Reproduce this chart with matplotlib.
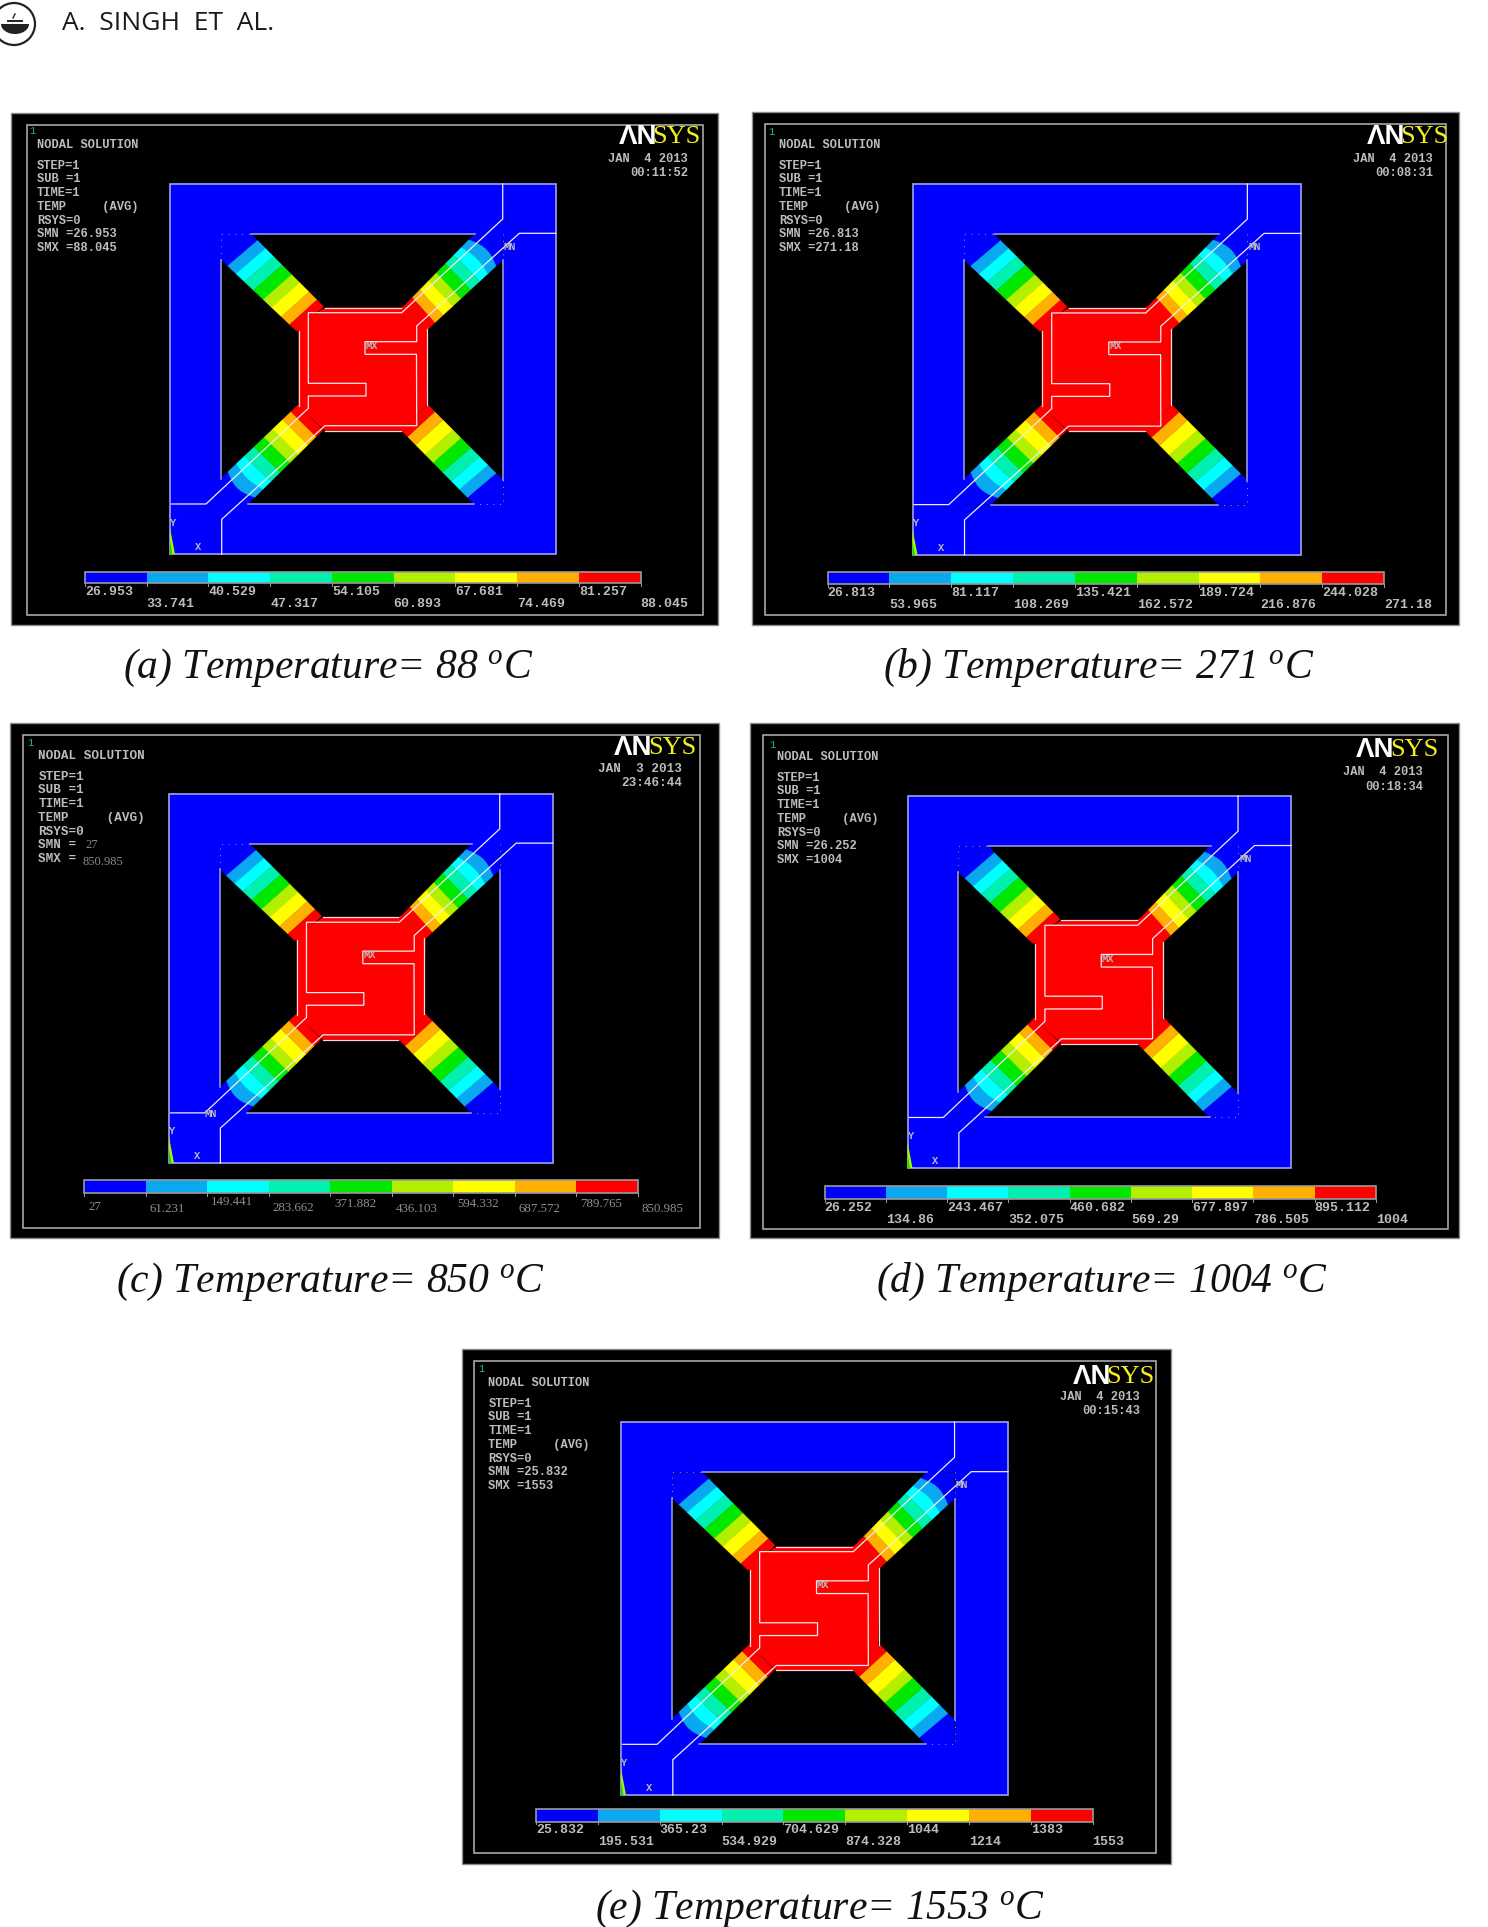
import numpy as np
import matplotlib
matplotlib.use("Agg")
import matplotlib.pyplot as plt
from matplotlib.patches import Circle, Polygon, Rectangle

plt.rcParams["mathtext.fontset"] = "custom"
plt.rcParams["mathtext.it"] = "Liberation Serif:italic"
plt.rcParams["mathtext.rm"] = "Liberation Serif:italic"

# values shown in each of the five panels
panel_names = ["a", "b", "c", "d", "e"]
temperatures = ["88", "271", "850", "1004", "1553"]
smn_text = ["26.953", "26.813", "27", "26.252", "25.832"]
smx_text = ["88.045", "271.18", "850.985", "1004", "1553"]
dates = ["JAN  4 2013", "JAN  4 2013", "JAN  3 2013", "JAN  4 2013", "JAN  4 2013"]
times = ["00:11:52", "00:08:31", "23:46:44", "00:18:34", "00:15:43"]
levels_a = ["26.953", "33.741", "40.529", "47.317", "54.105", "60.893", "67.681", "74.469", "81.257", "88.045"]
levels_b = ["26.813", "53.965", "81.117", "108.269", "135.421", "162.572", "189.724", "216.876", "244.028", "271.18"]
levels_c = ["27", "61.231", "149.441", "283.662", "371.882", "436.103", "594.332", "687.572", "789.765", "850.985"]
levels_d = ["26.252", "134.86", "243.467", "352.075", "460.682", "569.29", "677.897", "786.505", "895.112", "1004"]
levels_e = ["25.832", "195.531", "365.23", "534.929", "704.629", "874.328", "1044", "1214", "1383", "1553"]
levels = [levels_a, levels_b, levels_c, levels_d, levels_e]
band_colors = ["#0000ff", "#0aa8f0", "#00ffff", "#00f0b0", "#00e800", "#b2f000", "#ffff00", "#ffb000", "#ff0000"]

# layout in pixels: left, top, right, bottom
panel_boxes = [(11, 113, 718, 625), (752, 112, 1459, 625), (10, 723, 719, 1238), (750, 723, 1459, 1238), (462, 1349, 1171, 1864)]
frame_boxes = [(27, 125, 703, 615), (765, 124, 1446, 615), (23, 735, 700, 1228), (763, 735, 1448, 1229), (474, 1361, 1156, 1853)]
model_boxes = [(170, 184, 556, 554.3), (912.5, 184, 1301, 555), (169, 794, 552.7, 1163), (907.5, 796, 1291, 1168), (621, 1422, 1008, 1795)]
bar_boxes = [(85, 571.7, 640.5, 583.3), (827.5, 572, 1384, 584), (84, 1180, 638, 1193), (824.5, 1186, 1376, 1199), (536, 1809, 1092.5, 1821.5)]
text_starts = [(37, 145), (779, 145), (38.3, 756), (777, 757), (488.3, 1383)]
one_marks = [(32, 131), (771.7, 131.7), (30.7, 742.7), (772, 745), (481.7, 1369)]
date_marks = [(688, 159), (1433, 159), (682, 769), (1423, 772), (1140, 1397)]
logo_marks = [(701, 137), (1449, 137), (696, 748), (1438, 750), (1155, 1377)]
caption_marks = [(328, 668), (1099, 668), (330, 1282), (1102.5, 1282), (820, 1909)]
mn_marks = [(510, 246.7), (510, 246.7), (212, 505), (510, 246.7), (510, 246.7)]
mono_sizes = [8.7, 8.7, 9.1, 8.7, 8.7]

# blueprint of the model, in pixels of panel (a)
blue_l, blue_t, blue_r, blue_b = model_boxes[0]
hole = (221, 234, 502.7, 504)
# each arm: two points on the frame side, two on the square side, bulge of the frame end
arms = [
    ((251, 234), (221, 259.5), (323.5, 306.5), (296.5, 331), 0),
    ((475, 233.5), (502.7, 260), (406, 304), (428, 329), 7),
    ((248, 504), (221, 478.5), (323, 430), (298, 405), 7),
    ((474, 504), (502.7, 480), (401, 430), (428, 405), 0),
]
corners = [
    [(221, 234), (251, 234), (221, 259.5)],
    [(502.7, 234), (475, 233.5), (502.7, 260)],
    [(221, 504), (248, 504), (221, 478.5)],
    [(502.7, 504), (474, 504), (502.7, 480)],
]
hole_edges = [
    [(251, 234), (475, 234)],
    [(502.7, 260), (502.7, 480)],
    [(474, 504), (248, 504)],
    [(221, 478.5), (221, 259.5)],
]
# faint dotted traces left in the blue corners
dotted_edges = [
    [(221, 259.5), (221, 234), (251, 234)],
    [(502.7, 234), (502.7, 260)],
    [(502.7, 480), (502.7, 504), (474, 504)],
]
band_steps = [0.0, 0.09, 0.2, 0.31, 0.43, 0.56, 0.67, 0.8, 0.91, 1.0]
square = [(325, 307.7), (400.7, 307.7), (408, 303), (428, 328), (426.7, 405), (426.7, 406),
          (400.7, 430.7), (325, 430.7), (298.5, 406), (298.5, 331), (295, 328)]
square_edges = [
    [(325, 307.7), (400.7, 307.7)],
    [(427, 329), (427, 405)],
    [(400.7, 430.7), (325, 430.7)],
    [(298.5, 406), (298.5, 331)],
]
path_upper = [(502.7, 184), (502.7, 219), (401.7, 312.7), (308.3, 312.7), (308.3, 383.3), (366, 383.3),
              (366, 396), (308.3, 396), (308.3, 408.3), (206, 504), (171.7, 504)]
path_lower = [(556, 233.3), (519.3, 233.3), (416.7, 326), (416.7, 341.7), (365, 341.7), (365, 354.3),
              (416.5, 354.3), (416.7, 425.7), (325, 425.7), (221.7, 519.3), (221.7, 554.3)]


def band_polygon(arm, t0, t1, bulge):
    """One coloured band across an arm, with curved edges near the frame end."""
    a0, b0, a1, b1 = [np.array(p, dtype=float) for p in arm[:4]]
    s = np.linspace(0, 1, 9)
    points = []
    for t, direction in ((t0, 1), (t1, -1)):
        a = a0 + (a1 - a0) * t
        b = b0 + (b1 - b0) * t
        axis = (a1 - a0) / np.linalg.norm(a1 - a0)
        size = bulge * max(0.0, 1 - t / 0.35)
        line = [a + (b - a) * v - axis * size * np.sin(np.pi * v) for v in s]
        points += line[::direction]
    return points


def draw_panel(ax, i):
    left, top, right, bottom = panel_boxes[i]
    ax.add_patch(Rectangle((left, top), right - left, bottom - top, fc="black", ec="#8c8c8c", lw=1.0))
    fl, ft, fr, fb = frame_boxes[i]
    ax.add_patch(Rectangle((fl, ft), fr - fl, fb - ft, fc="none", ec="#a8a8a8", lw=1.2))

    ml, mt, mr, mb = model_boxes[i]
    sx = (mr - ml) / (blue_r - blue_l)
    sy = (mb - mt) / (blue_b - blue_t)

    def place(points):
        return [(ml + (x - blue_l) * sx, mt + (y - blue_t) * sy) for x, y in points]

    outline = "#a0a0f0"
    ax.add_patch(Rectangle((ml, mt), mr - ml, mb - mt, fc=band_colors[0], ec=outline, lw=1.2))
    hl, ht, hr, hb = hole
    hole_points = place([(hl, ht), (hr, ht), (hr, hb), (hl, hb)])
    ax.add_patch(Polygon(hole_points, fc="black", ec="none"))
    for corner in corners:
        ax.add_patch(Polygon(place(corner), fc=band_colors[0], ec="none"))
    for edge in hole_edges:
        xs, ys = zip(*place(edge))
        ax.plot(xs, ys, color=outline, lw=1.1)
    for edge in dotted_edges:
        xs, ys = zip(*place(edge))
        ax.plot(xs, ys, color="#c8c8ff", lw=0.6, ls=(0, (1, 7)))

    for arm in arms:
        for k, color in enumerate(band_colors):
            points = band_polygon(arm, band_steps[k], band_steps[k + 1], arm[4])
            ax.add_patch(Polygon(place(points), fc=color, ec=color, lw=0.3))
    ax.add_patch(Polygon(place(square), fc=band_colors[-1], ec="none"))
    for edge in square_edges:
        xs, ys = zip(*place(edge))
        ax.plot(xs, ys, color="#ffd8d8", lw=0.9)

    for path in (path_upper, path_lower):
        xs, ys = zip(*place(path))
        ax.plot(xs, ys, color="#f0ecf4", lw=0.9, solid_joinstyle="miter")

    # coordinate triad in the lower left corner
    ax.add_patch(Polygon(place([(blue_l, 554.3), (blue_l + 5, 554.3), (blue_l, 528)]), fc="#b2f000", ec="none"))
    ax.add_patch(Polygon(place([(blue_l, 554.3), (blue_l + 2.5, 554.3), (blue_l, 540)]), fc="#00e800", ec="none"))

    mono = dict(family="Liberation Mono", color="#bcbcbc", va="center", fontweight="bold")
    size = mono_sizes[i]
    small = dict(mono, fontsize=7.5, ha="center")
    ax.text(*place([(173.5, 522.5)])[0], "Y", **small)
    ax.text(*place([(198, 547)])[0], "X", **small)
    ax.text(*place([(371.7, 346)])[0], "MX", **small)
    ax.text(*place([mn_marks[i]])[0], "MN", **small)

    x0, y0 = text_starts[i]
    ax.text(one_marks[i][0], one_marks[i][1], "1", family="Liberation Mono", color="#20b0a0", fontsize=7.5, ha="center", va="center")
    ax.text(x0, y0, "NODAL SOLUTION", fontsize=size, **mono)
    rows = ["STEP=1", "SUB =1", "TIME=1", "TEMP     (AVG)", "RSYS=0"]
    if i == 2:
        rows += ["SMN =", "SMX ="]
    else:
        rows += ["SMN =" + smn_text[i], "SMX =" + smx_text[i]]
    for k, row in enumerate(rows):
        ax.text(x0, y0 + 20.7 + 13.75 * k, row, fontsize=size, **mono)
    if i == 2:
        # this panel had its extreme values retyped in a serif face
        serif = dict(family="Liberation Serif", color="#8a8a8a", fontsize=9, va="center")
        ax.text(x0 + 47, y0 + 89, smn_text[i], **serif)
        ax.text(x0 + 44, y0 + 106, smx_text[i], **serif)

    dx, dy = date_marks[i]
    ax.text(dx, dy, dates[i], fontsize=size, ha="right", **mono)
    ax.text(dx, dy + 14.5, times[i], fontsize=size, ha="right", **mono)

    lx, ly = logo_marks[i]
    ax.text(lx, ly, "SYS", family="Liberation Serif", color="#f2ee20", fontsize=19, ha="right", va="center")
    ax.text(lx - 44, ly, "ΛN", family="Liberation Sans", fontweight="bold", color="white", fontsize=20, ha="right", va="center")

    bl, bt, br, bb = bar_boxes[i]
    step = (br - bl) / len(band_colors)
    ax.bar([bl + step * k for k in range(len(band_colors))], bb - bt, width=step, bottom=bt,
           align="edge", color=band_colors, edgecolor="none")
    ax.add_patch(Rectangle((bl, bt), br - bl, bb - bt, fc="none", ec="#9a9a9a", lw=1.2))
    for k, label in enumerate(levels[i]):
        x = bl + step * k
        ax.plot([x, x], [bb, bb + 2.5], color="#a0a0a0", lw=0.7)
        if i == 2:
            offsets = [14, 16, 9, 15, 11, 16, 11, 16, 11, 16]
            ax.text(x + 4, bb + offsets[k], label, family="Liberation Serif", color="#8f8f8f", fontsize=9.3, va="center")
        else:
            ax.text(x, bb + (8.7 if k % 2 == 0 else 20.7), label, fontsize=9.5, **mono)

    cx, cy = caption_marks[i]
    ax.text(cx, cy, f"({panel_names[i]}) Temperature= {temperatures[i]} " + r"$^{o}$C",
            family="Liberation Serif", style="italic", color="#111111", fontsize=30, ha="center", va="center")


fig = plt.figure(figsize=(14.88, 19.27), dpi=100)
ax = fig.add_axes([0, 0, 1, 1])
ax.set_xlim(0, 1488)
ax.set_ylim(1927, 0)
ax.axis("off")

# running head with the publisher's lamp mark
ax.add_patch(Circle((14, 24), 21, fc="white", ec="#222222", lw=1.6))
bowl = np.linspace(0, np.pi, 25)
ax.add_patch(Polygon(np.column_stack([15 + 14 * np.cos(bowl), 24 + 10 * np.sin(bowl)]), fc="#222222", ec="none"))
ax.plot([8, 22], [21, 21], color="#222222", lw=1.4)
ax.plot([13, 15], [18, 14], color="#222222", lw=1.0)
ax.text(62, 24, "A.  SINGH  ET  AL.", family="Open Sans", color="#1a1a1a", fontsize=19, va="center")

for i in range(len(panel_names)):
    draw_panel(ax, i)

fig.savefig("out.png", dpi=100)
plt.close(fig)
